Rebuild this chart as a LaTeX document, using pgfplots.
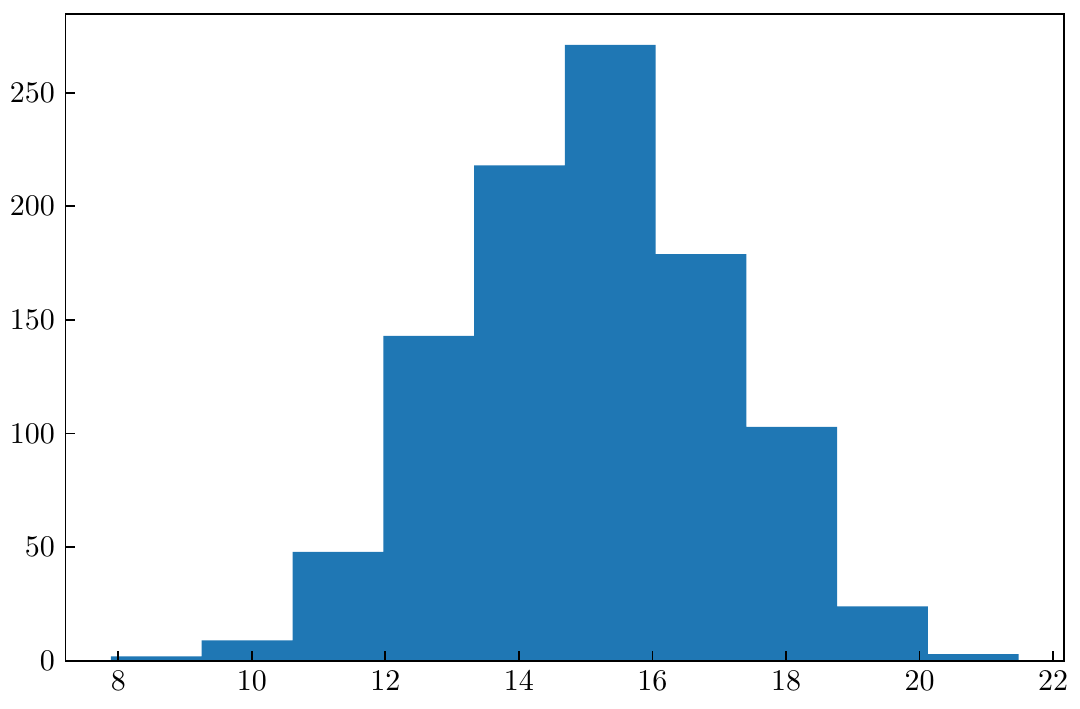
\documentclass[border=0pt]{standalone}
\usepackage{pgfplots}
\pgfplotsset{compat=1.18}
\definecolor{mplblue}{HTML}{1F77B4}
\begin{document}
\begin{tikzpicture}
\begin{axis}[
  scale only axis,
  width=333pt, height=215.7pt,
  xmin=7.21, xmax=22.165,
  ymin=0, ymax=284.55,
  xtick={8,10,12,14,16,18,20,22},
  ytick={0,50,100,150,200,250},
  tick align=inside,
  xtick pos=bottom, ytick pos=left,
  major tick length=3.3pt,
  axis line style={line width=0.6pt},
  every tick/.style={black, line width=0.6pt},
  axis on top,
  tick label style={font=\normalsize},
]
\addplot[ybar interval, fill=mplblue, draw=none] coordinates {
(7.89,2) (9.2495,9) (10.609,48) (11.9685,143) (13.328,218) (14.6875,271)
(16.047,179) (17.4065,103) (18.766,24) (20.1255,3) (21.485,3)
};
\end{axis}
\path ([xshift=-21.7pt,yshift=-16pt]current axis.south west) rectangle ([xshift=5.3pt,yshift=4.7pt]current axis.north east);
\end{tikzpicture}
\end{document}
